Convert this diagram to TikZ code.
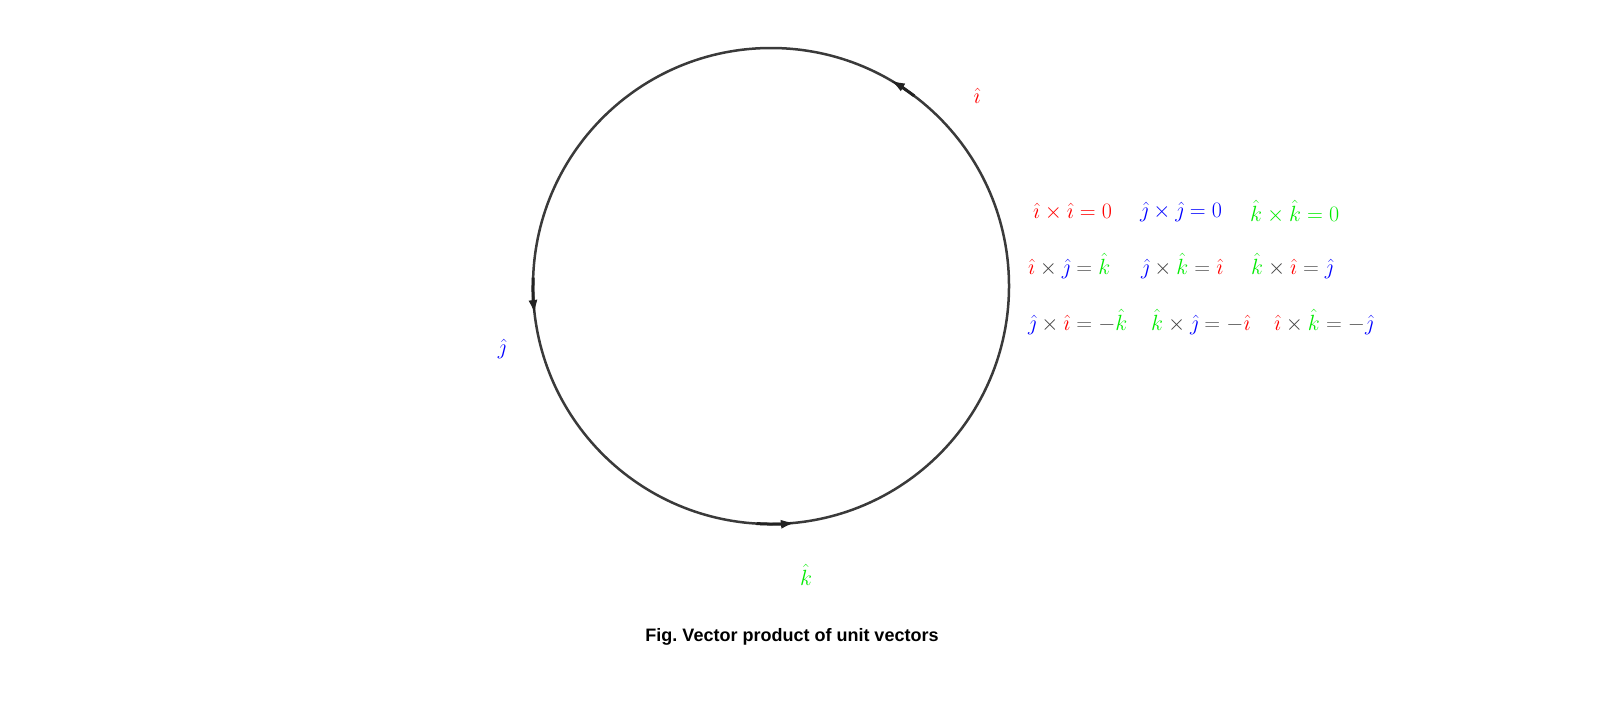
\RequirePackage{fix-cm}
\documentclass[tikz,border=0pt]{standalone}
\usepackage{fontspec}
\setsansfont{Liberation Sans}
\usetikzlibrary{arrows.meta}
\definecolor{cred}{RGB}{255,0,0}
\definecolor{cblue}{RGB}{0,0,255}
\definecolor{cgreen}{RGB}{0,235,0}
\definecolor{cop}{RGB}{60,60,60}
\definecolor{ceq}{RGB}{90,90,90}
\definecolor{cline}{RGB}{58,58,58}
\definecolor{carr}{RGB}{34,34,34}
\newcommand{\ri}{\textcolor{cred}{\hat{\imath}}}
\newcommand{\bj}{\textcolor{cblue}{\hat{\jmath}}}
\newcommand{\gk}{\textcolor{cgreen}{\hat{k}}}
\newcommand{\ox}{\mathbin{\textcolor{cop}{\times}}}
\newcommand{\oeq}{\mathrel{\textcolor{ceq}{=}}}
\newcommand{\om}{\textcolor{ceq}{-}}
\begin{document}
\begin{tikzpicture}[x=1pt,y=1pt,
  lbl/.style={inner sep=0pt,font=\fontsize{22}{26}\selectfont},
  eqn/.style={inner sep=0pt,anchor=west,font=\fontsize{22}{26}\selectfont},
  captext/.style={inner sep=0pt,font=\sffamily\bfseries\fontsize{18}{22}\selectfont},
  ring/.style={draw=cline,line width=2.5pt},
  dirarrow/.style={draw=carr,line width=3pt,-{Latex[length=15pt,width=9pt]}}]
\useasboundingbox (0,0) rectangle (1600,-702);
\coordinate (c) at (771,-286);
\draw[ring] (c) circle[radius=238];
% direction arrows (counterclockwise)
\draw[dirarrow] (c) ++(53:238) arc[start angle=53,end angle=60,radius=238];
\draw[dirarrow] (c) ++(178:238) arc[start angle=178,end angle=187,radius=238];
\draw[dirarrow] (c) ++(266.5:238) arc[start angle=266.5,end angle=276,radius=238];
% vertex labels
\node[lbl] (li) at (977,-96) {$\ri$};
\node[lbl] (lj) at (502,-349) {$\bj$};
\node[lbl] (lk) at (806,-575) {$\gk$};
% equations
\node[eqn] (e11) at (1033,-212) {$\textcolor{cred}{\hat{\imath}\times\hat{\imath}=0}$};
\node[eqn] (e12) at (1140,-212) {$\textcolor{cblue}{\hat{\jmath}\times\hat{\jmath}=0}$};
\node[eqn] (e13) at (1250,-212) {$\textcolor{cgreen}{\hat{k}\times\hat{k}=0}$};
\node[eqn] (e21) at (1028,-266) {$\ri\ox\bj\oeq\gk$};
\node[eqn] (e22) at (1141,-266) {$\bj\ox\gk\oeq\ri$};
\node[eqn] (e23) at (1251,-266) {$\gk\ox\ri\oeq\bj$};
\node[eqn] (e31) at (1028,-322) {$\bj\ox\ri\oeq\om\gk$};
\node[eqn] (e32) at (1151,-322) {$\gk\ox\bj\oeq\om\ri$};
\node[eqn] (e33) at (1274,-322) {$\ri\ox\gk\oeq\om\bj$};
% caption
\node[captext] (capt) at (792,-637) {Fig.\ Vector product of unit vectors};
\end{tikzpicture}
\end{document}
